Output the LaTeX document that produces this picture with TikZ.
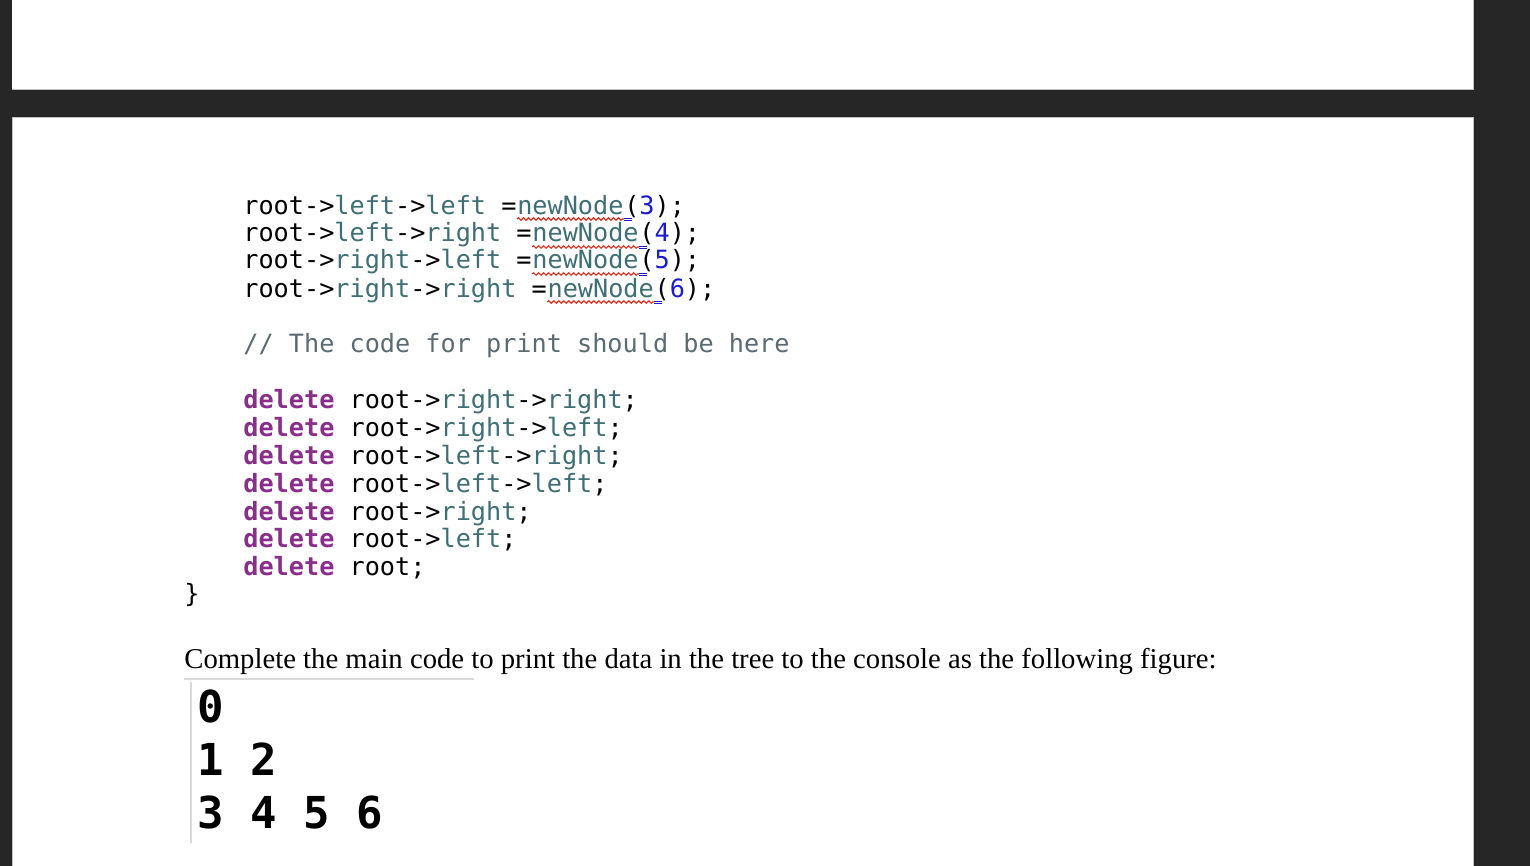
\documentclass[tikz,border=0pt]{standalone}
\usepackage{fontspec}
\setmainfont{Liberation Serif}
\newfontfamily\codefont{DejaVu Sans Mono}
\usetikzlibrary{decorations.pathmorphing}
\definecolor{bgdark}{HTML}{262626}
\definecolor{fld}{HTML}{3F6E74}
\definecolor{kw}{HTML}{8B2E8B}
\definecolor{num}{HTML}{1A1AD0}
\definecolor{cmt}{HTML}{5A6B73}
\definecolor{sq}{HTML}{E03020}
\begin{document}
\begin{tikzpicture}[x=0.5pt,y=-0.5pt,
  code/.style={anchor=base west,inner sep=0pt,font=\codefont\fontsize{12.6pt}{15pt}\selectfont},
  outtext/.style={anchor=base west,inner sep=0pt,font=\codefont\bfseries\fontsize{22pt}{24pt}\selectfont},
  squig/.style={draw=sq,line width=0.6pt,decorate,decoration={snake,amplitude=0.6pt,segment length=2.5pt}},
  dbl/.style={draw=num,line width=0.5pt}]
\fill[bgdark] (0,0) rectangle (1530,866);
\useasboundingbox (0,0) rectangle (1530,866);
\fill[white] (12,0) rectangle (1473,89);
\draw[gray!50] (12,89) -- (1473,89) -- (1473,0);
\fill[white,draw=gray!50] (12,117) rectangle (1473,870);
% assignment lines
\foreach \i/\y/\a/\b/\n in {1/214/left/left/3, 2/242/left/right/4, 3/269/right/left/5, 4/297/right/right/6}{
  \node[code] (a\i) at (243,\y) {root->\textcolor{fld}{\a}->\textcolor{fld}{\b} =\ };
  \node[code] (b\i) at (a\i.base east) {\textcolor{fld}{newNode}};
  \node[code] (c\i) at (b\i.base east) {(\textcolor{num}{\n});};
  \draw[squig] ([yshift=-2.5pt]b\i.base west) -- ([yshift=-2.5pt]b\i.base east);
  \draw[dbl] ([yshift=-2.2pt]b\i.base east) -- ++(8,0);
  \draw[dbl] ([yshift=-3.4pt]b\i.base east) -- ++(8,0);
}
\node[code] (cm) at (243,352) {\textcolor{cmt}{// The code for print should be here}};
\foreach \i/\y/\t in {1/408/{root->\textcolor{fld}{right}->\textcolor{fld}{right};},
  2/436/{root->\textcolor{fld}{right}->\textcolor{fld}{left};},
  3/464/{root->\textcolor{fld}{left}->\textcolor{fld}{right};},
  4/492/{root->\textcolor{fld}{left}->\textcolor{fld}{left};},
  5/520/{root->\textcolor{fld}{right};},
  6/547/{root->\textcolor{fld}{left};},
  7/575/{root;}}{
  \node[code] (d\i) at (243,\y) {\textcolor{kw}{\bfseries delete} \t};
}
\node[code] (br) at (184,602) {\}};
\node[anchor=base west,inner sep=0pt,font=\fontsize{14.35pt}{16pt}\selectfont] (q) at (184,668) {Complete the main code to print the data in the tree to the console as the following figure:};
\draw[gray!30,line width=1.2pt] (184,679) -- (474,679);
\draw[gray!30,line width=1pt] (191,682) -- (191,843);
\node[outtext] (o1) at (197,722) {0};
\node[outtext] (o2) at (197,775) {1 2};
\node[outtext] (o3) at (197,828) {3 4 5 6};
\end{tikzpicture}
\end{document}
